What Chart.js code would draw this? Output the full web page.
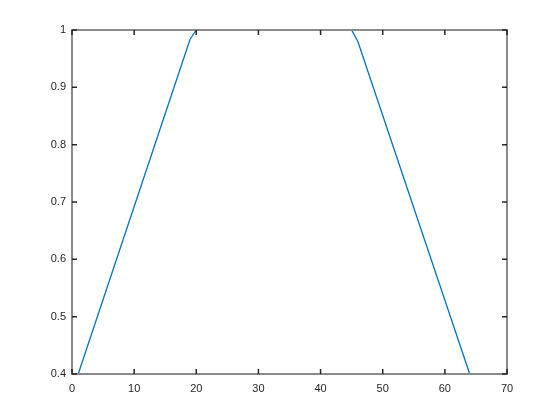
<!DOCTYPE html>
<html>
<head>
<meta charset="utf-8">
<script src="https://cdn.jsdelivr.net/npm/chart.js@4"></script>
<style>
  body { margin: 0; background: #fff; }
</style>
</head>
<body>
<canvas id="myChart" width="560" height="420"></canvas>
<script>
// vertices of the plotted curve
const xValues = [1, 19, 20, 45, 46, 64];
const yValues = [0.4, 0.984, 1, 1, 0.98, 0.4];
const xTicks = [0, 10, 20, 30, 40, 50, 60, 70];
const yTicks = [0.4, 0.5, 0.6, 0.7, 0.8, 0.9, 1];

const axisColor = '#262626';

// MATLAB style box with inward ticks
const boxPlugin = {
  id: 'box',
  afterDraw(chart) {
    const { ctx, chartArea: a, scales } = chart;
    ctx.save();
    ctx.strokeStyle = '#8a8a8a';
    ctx.lineWidth = 2;
    ctx.strokeRect(a.left, a.top, a.right - a.left, a.bottom - a.top);
    ctx.strokeStyle = axisColor;
    ctx.lineWidth = 1.5;
    ctx.beginPath();
    xTicks.forEach(v => {
      const px = scales.x.getPixelForValue(v);
      ctx.moveTo(px, a.bottom); ctx.lineTo(px, a.bottom - 5);
      ctx.moveTo(px, a.top); ctx.lineTo(px, a.top + 5);
    });
    yTicks.forEach(v => {
      const py = scales.y.getPixelForValue(v);
      ctx.moveTo(a.left, py); ctx.lineTo(a.left + 5, py);
      ctx.moveTo(a.right, py); ctx.lineTo(a.right - 5, py);
    });
    ctx.stroke();
    ctx.restore();
  }
};

document.addEventListener("DOMContentLoaded", function() {
  const ctx = document.getElementById('myChart');

  new Chart(ctx, {
    type: 'line',
    data: {
      datasets: [{
        data: xValues.map((x, i) => ({ x: x, y: yValues[i] })),
        borderColor: '#0072BD',
        borderWidth: 1.3,
        pointRadius: 0,
        tension: 0,
        fill: false
      }]
    },
    options: {
      responsive: false,
      animation: false,
      layout: { padding: { top: 30, right: 53, left: 0, bottom: 0 } },
      plugins: { legend: { display: false }, tooltip: { enabled: false } },
      scales: {
        x: {
          type: 'linear',
          min: 0, max: 70,
          grid: { display: false, drawTicks: false },
          border: { display: false },
          afterBuildTicks: s => { s.ticks = xTicks.map(v => ({ value: v })); },
          afterFit: s => { s.height = 46; },
          ticks: {
            color: axisColor,
            padding: 8,
            maxRotation: 0,
            font: { family: 'Liberation Sans, Arial, sans-serif', size: 11 },
            callback: v => String(v)
          }
        },
        y: {
          min: 0.4, max: 1,
          grid: { display: false, drawTicks: false },
          border: { display: false },
          afterBuildTicks: s => { s.ticks = yTicks.map(v => ({ value: v })); },
          afterFit: s => { s.width = 72; },
          ticks: {
            color: axisColor,
            padding: 6,
            font: { family: 'Liberation Sans, Arial, sans-serif', size: 11 },
            callback: v => String(Number(v.toFixed(1)))
          }
        }
      }
    },
    plugins: [boxPlugin]
  });
});
</script>
</body>
</html>
